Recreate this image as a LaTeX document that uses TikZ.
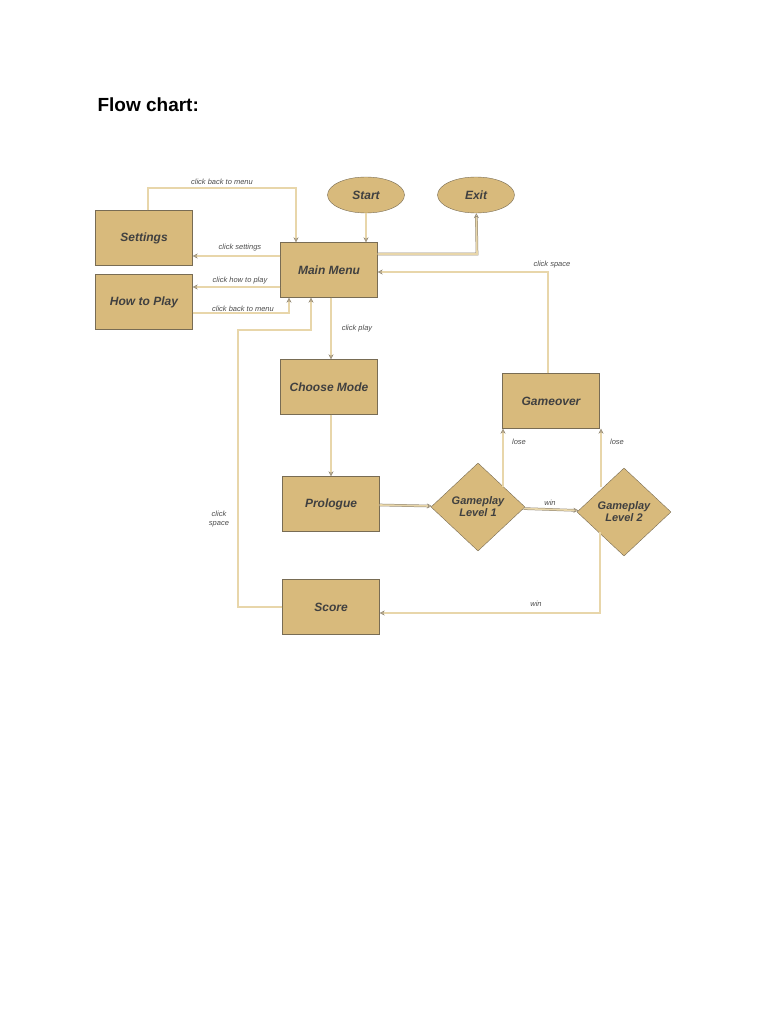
\documentclass[tikz,border=0pt]{standalone}
\usepackage{fontspec}
\setmainfont{Liberation Sans}
\usetikzlibrary{shapes.geometric,arrows.meta}
\definecolor{boxfill}{RGB}{216,186,124}
\definecolor{boxline}{RGB}{120,108,84}
\definecolor{linkfill}{RGB}{232,214,170}
\tikzset{
  box/.style={draw=boxline, fill=boxfill, minimum width=97pt, minimum height=55pt,
    font=\bfseries\itshape\fontsize{12}{14}\selectfont, text=black!75},
  oval/.style={ellipse, draw=boxline, fill=boxfill, minimum width=77pt, minimum height=36pt,
    font=\bfseries\itshape\fontsize{12}{14}\selectfont, text=black!75},
  decision/.style={diamond, draw=boxline, fill=boxfill, minimum width=94pt, minimum height=88pt,
    inner sep=0pt, align=center, font=\bfseries\itshape\fontsize{11}{12}\selectfont, text=black!75},
  link/.style={draw=boxline!80, double=linkfill, double distance=1.6pt, line width=0.5pt,
    -{Stealth[length=5pt,width=5pt,fill=linkfill]}},
  lbl/.style={font=\itshape\fontsize{7.5}{9}\selectfont, text=black!70, align=center}
}
\begin{document}
\begin{tikzpicture}[x=1pt,y=-1pt]
\useasboundingbox (0,0) rectangle (768,1024);

% Title
\node[anchor=west, font=\bfseries\fontsize{19}{22}\selectfont] (title) at (94,105) {Flow chart:};

% Nodes
\node[box] (settings) at (144,238) {Settings};
\node[box] (howto) at (144,302) {How to Play};
\node[box] (menu) at (329,270) {Main Menu};
\node[oval] (start) at (366,195) {Start};
\node[oval] (exit) at (476,195) {Exit};
\node[box] (mode) at (329,387) {Choose Mode};
\node[box] (prologue) at (331,504) {Prologue};
\node[decision] (lvl1) at (478,507) {Gameplay\\Level 1};
\node[decision] (lvl2) at (624,512) {Gameplay\\Level 2};
\node[box] (gameover) at (551,401) {Gameover};
\node[box] (score) at (331,607) {Score};

% Bends
\coordinate (b1) at (148,188);
\coordinate (b2) at (296,188);
\coordinate (b3) at (477,254);
\coordinate (b4) at (548,272);
\coordinate (b5) at (289,313);
\coordinate (b6) at (238,607);
\coordinate (b7) at (238,330);
\coordinate (b8) at (311,330);
\coordinate (b9) at (600,613);

% Links
\draw[link] (settings.north -| b1) -- (b1) -- (b2) -- (menu.north -| b2);
\draw[link] (start) -- (menu.north -| start);
\draw[link] (menu.east |- b3) -- (b3) -- (exit);
\draw[link] (gameover.north -| b4) -- (b4) -- (menu.east |- b4);
\draw[link] (menu.west |- 0,256) -- (settings.east |- 0,256);
\draw[link] (menu.west |- 0,287) -- (howto.east |- 0,287);
\draw[link] (howto.east |- b5) -- (b5) -- (menu.south -| b5);
\draw[link] (score.west) -- (b6) -- (b7) -- (b8) -- (menu.south -| b8);
\draw[link] (menu.south -| 331,0) -- (mode.north -| 331,0);
\draw[link] (mode.south -| 331,0) -- (prologue.north -| 331,0);
\draw[link] (prologue) -- (lvl1);
\draw[link] (lvl1) -- (lvl2);
\draw[link] (503,487) -- (gameover.south -| 503,0);
\draw[link] (601,487) -- (gameover.south -| 601,0);
\draw[link] (600,532) -- (b9) -- (score.east |- b9);

% Labels
\node[lbl] (l1) at (222,182) {click back to menu};
\node[lbl] (l2) at (240,248) {click settings};
\node[lbl] (l3) at (240,281) {click how to play};
\node[lbl] (l4) at (243,309) {click back to menu};
\node[lbl] (l5) at (552,265) {click space};
\node[lbl] (l6) at (357,329) {click play};
\node[lbl] (l7) at (219,519) {click\\space};
\node[lbl] (l8) at (550,503) {win};
\node[lbl] (l9) at (519,442) {lose};
\node[lbl] (l10) at (617,442) {lose};
\node[lbl] (l11) at (536,604) {win};
\end{tikzpicture}
\end{document}
